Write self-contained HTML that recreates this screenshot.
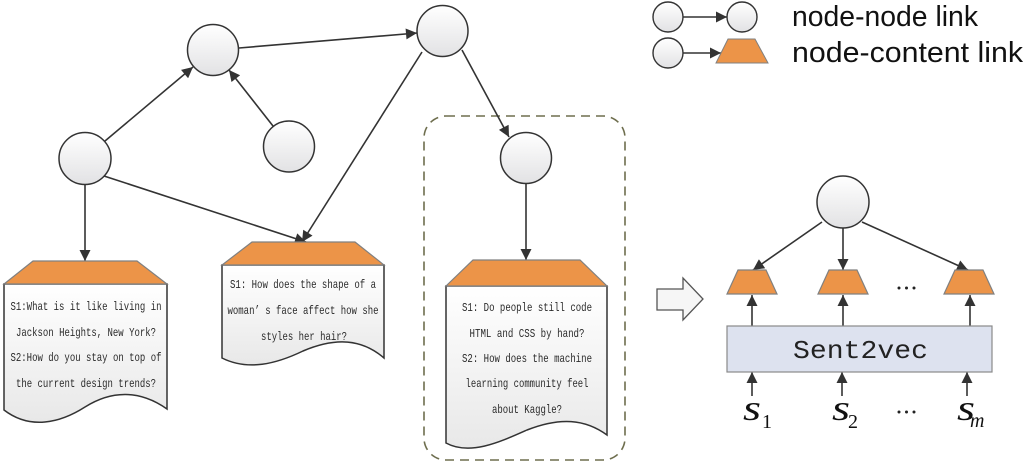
<!DOCTYPE html>
<html>
<head>
<meta charset="utf-8">
<style>
html,body{margin:0;padding:0;background:#fff;}
svg{display:block;}
.doc{font-family:"Liberation Mono","Noto Sans CJK SC",monospace;font-size:12px;fill:#2a2a2a;}
</style>
</head>
<body>
<svg width="1025" height="466" viewBox="0 0 1025 466" xmlns="http://www.w3.org/2000/svg">
<defs>
<linearGradient id="cg" x1="0" y1="0" x2="0" y2="1">
<stop offset="0" stop-color="#ffffff"/>
<stop offset="1" stop-color="#e2e2e4"/>
</linearGradient>
<linearGradient id="dg" x1="0" y1="0" x2="0" y2="1">
<stop offset="0" stop-color="#ffffff"/>
<stop offset="1" stop-color="#e8e8e8"/>
</linearGradient>
<marker id="ah" viewBox="0 0 10 10" refX="10" refY="5" markerWidth="13" markerHeight="11" markerUnits="userSpaceOnUse" orient="auto">
<path d="M0,0 L10,5 L0,10 Z" fill="#333"/>
</marker>
</defs>

<!-- dashed group box -->
<rect x="424" y="116" width="201" height="344" rx="22" ry="22" fill="none" stroke="#6e6e4e" stroke-width="1.6" stroke-dasharray="9,6"/>

<!-- connectors (left graph) -->
<g stroke="#333" stroke-width="1.6" fill="none" marker-end="url(#ah)">
<line x1="105" y1="141" x2="193" y2="67"/>
<line x1="273" y1="126" x2="229" y2="70"/>
<line x1="239" y1="48" x2="417" y2="33"/>
<line x1="422" y1="52" x2="302" y2="242"/>
<line x1="104" y1="176" x2="306" y2="242"/>
<line x1="85" y1="184" x2="85" y2="261"/>
<line x1="462" y1="50" x2="509" y2="137"/>
<line x1="526" y1="183" x2="526" y2="260"/>
</g>

<!-- circles -->
<g fill="url(#cg)" stroke="#333" stroke-width="1.5">
<circle cx="85" cy="158.5" r="26"/>
<circle cx="213" cy="50" r="25.5"/>
<circle cx="289" cy="146.5" r="25.5"/>
<circle cx="442.5" cy="31" r="25.5"/>
<circle cx="526" cy="158" r="25.5"/>
<circle cx="843" cy="202" r="26"/>
</g>

<!-- doc 1 -->
<path d="M4,284 H167 V409 C140,390 112,390 85,407 C60,423 30,430 4,410 Z" fill="url(#dg)" stroke="#333" stroke-width="1.5"/>
<path d="M33,261 L137,261 L167,284 L4,284 Z" fill="#EC9448" stroke="#808080" stroke-width="1.2"/>
<g class="doc" text-anchor="middle">
<text x="86" y="310" textLength="151" lengthAdjust="spacingAndGlyphs">S1:What is it like living in</text>
<text x="86" y="336" textLength="140" lengthAdjust="spacingAndGlyphs">Jackson Heights, New York?</text>
<text x="86" y="361" textLength="151" lengthAdjust="spacingAndGlyphs">S2:How do you stay on top of</text>
<text x="86" y="387" textLength="140" lengthAdjust="spacingAndGlyphs">the current design trends?</text>
</g>

<!-- doc 2 -->
<path d="M222,265 H384 V358 C362,339 336,337 303,351 C276,364 248,371 222,358 Z" fill="url(#dg)" stroke="#333" stroke-width="1.5"/>
<path d="M252,242 L355,242 L384,265 L222,265 Z" fill="#EC9448" stroke="#808080" stroke-width="1.2"/>
<g class="doc" text-anchor="middle">
<text x="303" y="288" textLength="146" lengthAdjust="spacingAndGlyphs">S1: How does the shape of a</text>
<text x="303" y="314" textLength="151" lengthAdjust="spacingAndGlyphs">woman’ s face affect how she</text>
<text x="304" y="340" textLength="86" lengthAdjust="spacingAndGlyphs">styles her hair?</text>
</g>

<!-- doc 3 -->
<path d="M446,286 H607 V435 C585,419 560,417 527,430 C500,442 470,456 446,443 Z" fill="url(#dg)" stroke="#333" stroke-width="1.5"/>
<path d="M473,260 L580,260 L607,286 L446,286 Z" fill="#EC9448" stroke="#808080" stroke-width="1.2"/>
<g class="doc" text-anchor="middle">
<text x="527" y="311" textLength="130" lengthAdjust="spacingAndGlyphs">S1: Do people still code</text>
<text x="527" y="337" textLength="115" lengthAdjust="spacingAndGlyphs">HTML and CSS by hand?</text>
<text x="527" y="362" textLength="130" lengthAdjust="spacingAndGlyphs">S2: How does the machine</text>
<text x="527" y="387" textLength="123" lengthAdjust="spacingAndGlyphs">learning community feel</text>
<text x="527" y="413" textLength="70" lengthAdjust="spacingAndGlyphs">about Kaggle?</text>
</g>

<!-- legend -->
<g stroke="#333" stroke-width="1.5" fill="none" marker-end="url(#ah)">
<line x1="683" y1="17" x2="727" y2="17"/>
<line x1="683" y1="53" x2="721" y2="53"/>
</g>
<g fill="url(#cg)" stroke="#333" stroke-width="1.4">
<circle cx="668" cy="17" r="15"/>
<circle cx="742" cy="17" r="15"/>
<circle cx="668" cy="53" r="15"/>
</g>
<path d="M728,39 L755,39 L768,63 L716,63 Z" fill="#EC9448" stroke="#808080" stroke-width="1"/>
<g font-family="Liberation Sans, sans-serif" font-size="29" fill="#111">
<text x="792" y="26" textLength="186" lengthAdjust="spacingAndGlyphs">node-node link</text>
<text x="792" y="62" textLength="231" lengthAdjust="spacingAndGlyphs">node-content link</text>
</g>

<!-- block arrow -->
<path d="M657,289 L683,289 L683,278 L703,299 L683,320 L683,310 L657,310 Z" fill="#f6f6f6" stroke="#555" stroke-width="1.3"/>

<!-- right diagram connectors -->
<g stroke="#333" stroke-width="1.6" fill="none" marker-end="url(#ah)">
<line x1="822" y1="222" x2="753" y2="270"/>
<line x1="843" y1="228" x2="843" y2="270"/>
<line x1="862" y1="222" x2="968" y2="270"/>
<line x1="752" y1="326" x2="752" y2="295"/>
<line x1="843" y1="326" x2="843" y2="295"/>
<line x1="970" y1="326" x2="970" y2="295"/>
<line x1="752" y1="396" x2="752" y2="372"/>
<line x1="842" y1="396" x2="842" y2="372"/>
<line x1="967" y1="396" x2="967" y2="372"/>
</g>

<!-- trapezoids -->
<g fill="#EC9448" stroke="#808080" stroke-width="1.2">
<path d="M738,270 L766,270 L777,294 L727,294 Z"/>
<path d="M829,270 L857,270 L868,294 L818,294 Z"/>
<path d="M955,270 L983,270 L994,294 L944,294 Z"/>
</g>
<g fill="#222">
<circle cx="899" cy="288" r="1.5"/><circle cx="906.5" cy="288" r="1.5"/><circle cx="914" cy="288" r="1.5"/>
<circle cx="899" cy="412" r="1.5"/><circle cx="906.5" cy="412" r="1.5"/><circle cx="914" cy="412" r="1.5"/>
</g>

<!-- Sent2vec box -->
<rect x="727" y="326" width="265" height="46" fill="#dde2ef" stroke="#8a8a8a" stroke-width="1.2"/>
<text x="860.5" y="358" text-anchor="middle" font-family="Liberation Mono, monospace" font-size="26" fill="#222" textLength="135" lengthAdjust="spacingAndGlyphs">Sent2vec</text>

<!-- s labels -->
<g font-family="Liberation Serif, serif" fill="#111">
<text x="743" y="420" font-size="36" font-style="italic" textLength="18" lengthAdjust="spacingAndGlyphs">s</text>
<text x="762" y="428" font-size="20">1</text>
<text x="832" y="420" font-size="36" font-style="italic" textLength="18" lengthAdjust="spacingAndGlyphs">s</text>
<text x="848" y="428" font-size="20">2</text>
<text x="957" y="420" font-size="36" font-style="italic" textLength="18" lengthAdjust="spacingAndGlyphs">s</text>
<text x="970" y="427" font-size="20" font-style="italic">m</text>
</g>
</svg>
</body>
</html>
